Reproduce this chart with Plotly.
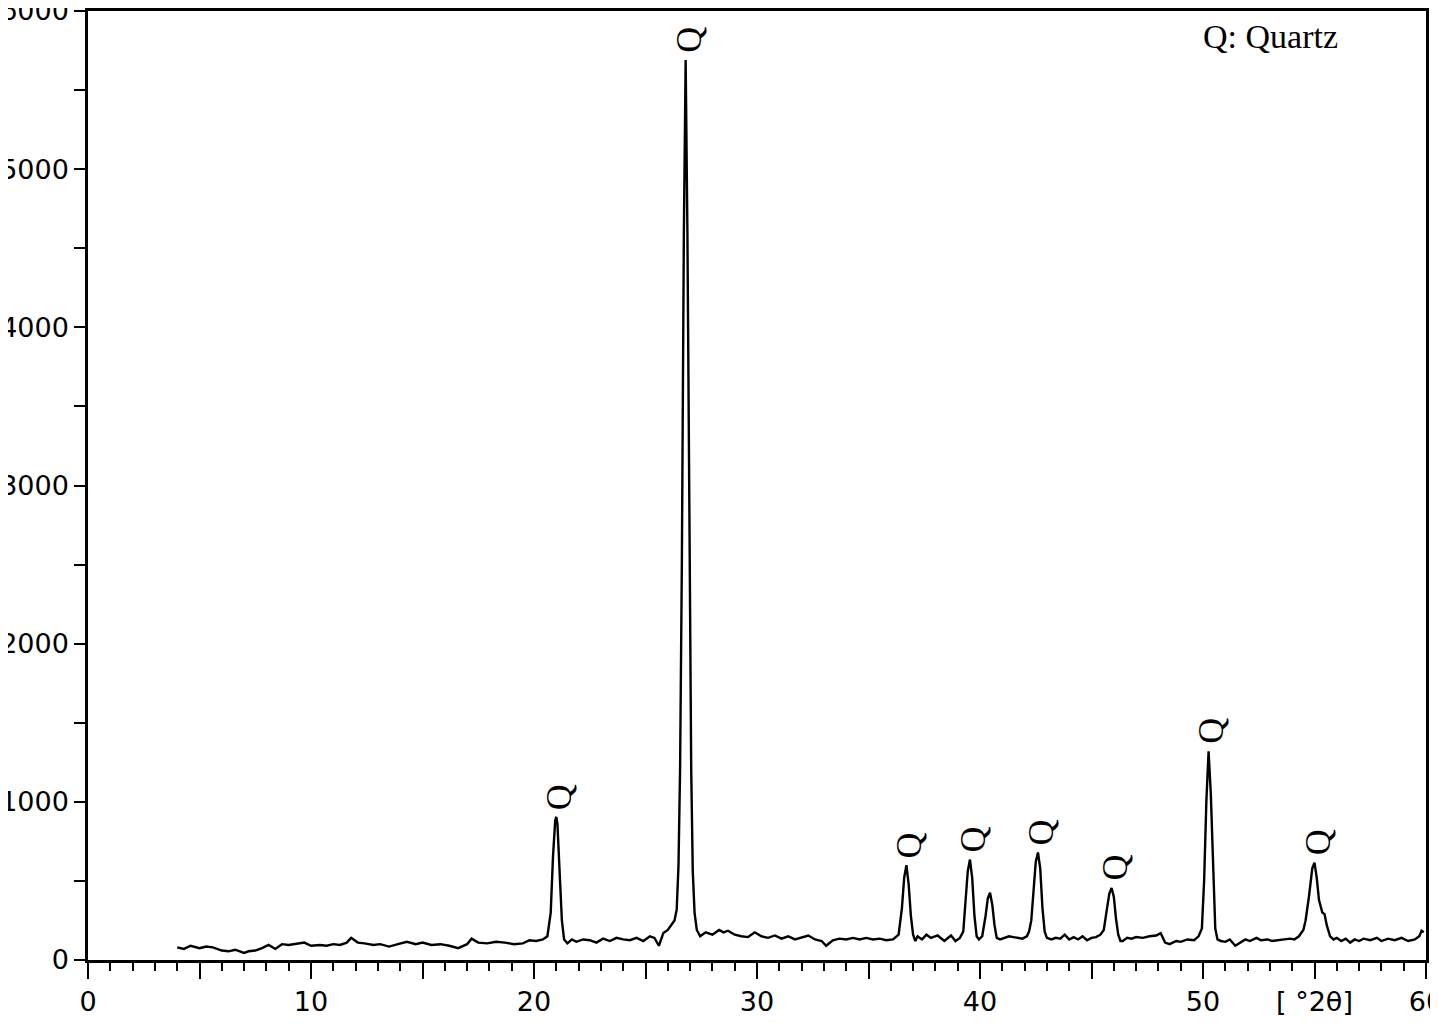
import plotly.graph_objects as go

# ---- data ----
two_theta = [
    4.0, 4.3, 4.6, 5.0, 5.3, 5.6, 6.0, 6.3, 6.6, 7.0, 7.2, 7.5, 7.8, 8.1, 8.4, 8.7, 9.0, 9.4, 9.7,
    10.0, 10.4, 10.7, 11.0, 11.3, 11.6, 11.8, 12.1, 12.4, 12.8, 13.1, 13.5, 13.9, 14.3, 14.7,
    15.0, 15.4, 15.8, 16.2, 16.6, 17.0, 17.2, 17.5, 17.9, 18.3, 18.7, 19.1, 19.5, 19.8,
    20.1, 20.4, 20.6, 20.75, 20.85, 20.95, 21.0, 21.05, 21.15, 21.25, 21.35, 21.5, 21.7, 21.9,
    22.2, 22.5, 22.8, 23.1, 23.4, 23.7, 24.0, 24.3, 24.6, 24.9, 25.2, 25.4, 25.6, 25.8,
    26.0, 26.2, 26.3, 26.4, 26.48, 26.55, 26.63, 26.72, 26.8, 26.88, 26.97, 27.05, 27.12, 27.2,
    27.3, 27.45, 27.7, 28.0, 28.3, 28.5, 28.7, 29.0, 29.3, 29.6, 29.9, 30.2, 30.5, 30.8,
    31.1, 31.4, 31.7, 32.0, 32.3, 32.6, 32.9, 33.1, 33.4, 33.7, 34.0, 34.3, 34.6, 34.9,
    35.2, 35.5, 35.8, 36.1, 36.35, 36.5, 36.6, 36.7, 36.8, 36.9, 37.0, 37.1, 37.2, 37.4,
    37.6, 37.8, 38.1, 38.4, 38.7, 38.9, 39.1, 39.25, 39.35, 39.45, 39.55, 39.65, 39.75,
    39.85, 39.95, 40.1, 40.25, 40.35, 40.45, 40.55, 40.65, 40.75, 40.9, 41.1, 41.3, 41.5,
    41.7, 41.9, 42.1, 42.2, 42.3, 42.4, 42.5, 42.6, 42.7, 42.8, 42.9, 43.0, 43.2, 43.4,
    43.6, 43.8, 44.0, 44.2, 44.4, 44.6, 44.8, 45.0, 45.2, 45.4, 45.55, 45.7, 45.8, 45.9,
    46.0, 46.1, 46.2, 46.3, 46.4, 46.6, 46.8, 47.0, 47.3, 47.6, 47.9, 48.1, 48.3, 48.5,
    48.8, 49.0, 49.3, 49.6, 49.8, 49.95, 50.05, 50.15, 50.25, 50.35, 50.45, 50.55, 50.65,
    50.8, 51.0, 51.2, 51.45, 51.7, 51.9, 52.1, 52.4, 52.6, 52.9, 53.1, 53.4, 53.6, 53.9,
    54.1, 54.3, 54.5, 54.6, 54.75, 54.9, 55.0, 55.1, 55.2, 55.35, 55.45, 55.55, 55.7, 55.85,
    56.0, 56.2, 56.4, 56.6, 56.8, 57.0, 57.2, 57.5, 57.8, 58.0, 58.3, 58.6, 58.9, 59.2,
    59.5, 59.7, 59.8, 59.9,
]
intensity = [
    80, 70, 90, 75, 85, 80, 60, 55, 65, 45, 55, 60, 75, 95, 70, 100, 95, 105, 110,
    90, 95, 90, 100, 95, 110, 140, 110, 105, 95, 100, 85, 100, 115, 100,
    110, 95, 100, 90, 75, 100, 135, 110, 105, 115, 110, 100, 105, 125,
    120, 130, 150, 300, 650, 880, 905, 860, 560, 250, 130, 105, 130, 115,
    130, 125, 110, 135, 120, 140, 130, 125, 140, 120, 150, 140, 90, 170,
    190, 230, 250, 320, 600, 1200, 2500, 4600, 5690, 4600, 2500, 1200, 560, 300,
    190, 150, 175, 160, 190, 175, 185, 160, 150, 145, 175, 150, 140, 155,
    135, 150, 130, 145, 155, 130, 120, 90, 125, 135, 130, 140, 130, 140,
    130, 135, 125, 130, 160, 330, 520, 600, 480, 280, 160, 120, 150, 130,
    160, 140, 155, 120, 155, 120, 140, 180, 350, 560, 635, 520, 280,
    150, 130, 150, 280, 390, 425, 350, 220, 140, 130, 140, 150, 145,
    140, 135, 150, 180, 250, 430, 620, 680, 580, 330, 180, 140, 130, 140,
    135, 160, 130, 145, 130, 150, 125, 140, 145, 160, 190, 330, 420, 455,
    400, 260, 160, 120, 120, 140, 135, 145, 140, 150, 155, 170, 110, 100,
    120, 115, 130, 125, 150, 200, 500, 1000, 1320, 1050, 550, 200, 130,
    120, 115, 130, 90, 110, 130, 120, 140, 125, 130, 120, 125, 130, 135,
    130, 150, 190, 250, 400, 580, 615, 520, 380, 300, 290, 220, 150, 130,
    140, 120, 135, 110, 130, 120, 135, 125, 140, 120, 135, 125, 140, 120,
    130, 150, 185, 175,
]

q_positions = [21.0, 26.8, 36.7, 39.55, 42.6, 45.9, 50.25, 55.0]
q_heights = [905, 5690, 600, 635, 680, 455, 1320, 615]

x_tick_values = [0, 5, 10, 15, 20, 25, 30, 35, 40, 45, 50, 55, 60]
x_tick_labels = ["0", "", "10", "", "20", "", "30", "", "40", "", "50", "[ °2θ]", "60"]
y_tick_values = [0, 500, 1000, 1500, 2000, 2500, 3000, 3500, 4000, 4500, 5000, 5500, 6000]
y_tick_labels = ["0", "", "1000", "", "2000", "", "3000", "", "4000", "", "5000", "", "6000"]

fig = go.Figure()
fig.add_trace(go.Scatter(
    x=two_theta, y=intensity, mode="lines",
    line=dict(color="black", width=2.4), showlegend=False, hoverinfo="skip",
))

for xp, yp in zip(q_positions, q_heights):
    fig.add_annotation(
        x=xp, y=yp, text="Q", showarrow=False, textangle=-90,
        xanchor="center", yanchor="middle", yshift=20, xshift=3,
        font=dict(family="Liberation Serif", size=36, color="black"),
    )

fig.add_annotation(
    x=0.884, y=0.973, xref="paper", yref="paper", text="Q: Quartz",
    showarrow=False, xanchor="center", yanchor="middle",
    font=dict(family="Liberation Serif", size=34, color="black"),
)

axis_font = dict(family="DejaVu Sans", size=27, color="black")

fig.update_layout(
    width=1430, height=1015,
    margin=dict(l=80, r=12, t=3, b=63),
    paper_bgcolor="white", plot_bgcolor="white",
    xaxis=dict(
        range=[0, 60], tickmode="array", tickvals=x_tick_values, ticktext=x_tick_labels,
        ticks="outside", ticklen=16, tickwidth=2, tickcolor="black",
        minor=dict(dtick=1, tick0=0, ticks="outside", ticklen=8, tickwidth=2, tickcolor="black"),
        showline=True, linecolor="black", linewidth=2.5, mirror=True,
        showgrid=False, zeroline=False, tickfont=axis_font, automargin=False,
        ticklabeloverflow="allow",
    ),
    yaxis=dict(
        range=[0, 6000], tickmode="array", tickvals=y_tick_values, ticktext=y_tick_labels,
        ticks="outside", ticklen=11, tickwidth=2, tickcolor="black",
        showline=True, linecolor="black", linewidth=2.5, mirror=True,
        showgrid=False, zeroline=False, tickfont=axis_font, automargin=False,
        ticklabeloverflow="allow",
    ),
)

fig.write_html("out.html")
